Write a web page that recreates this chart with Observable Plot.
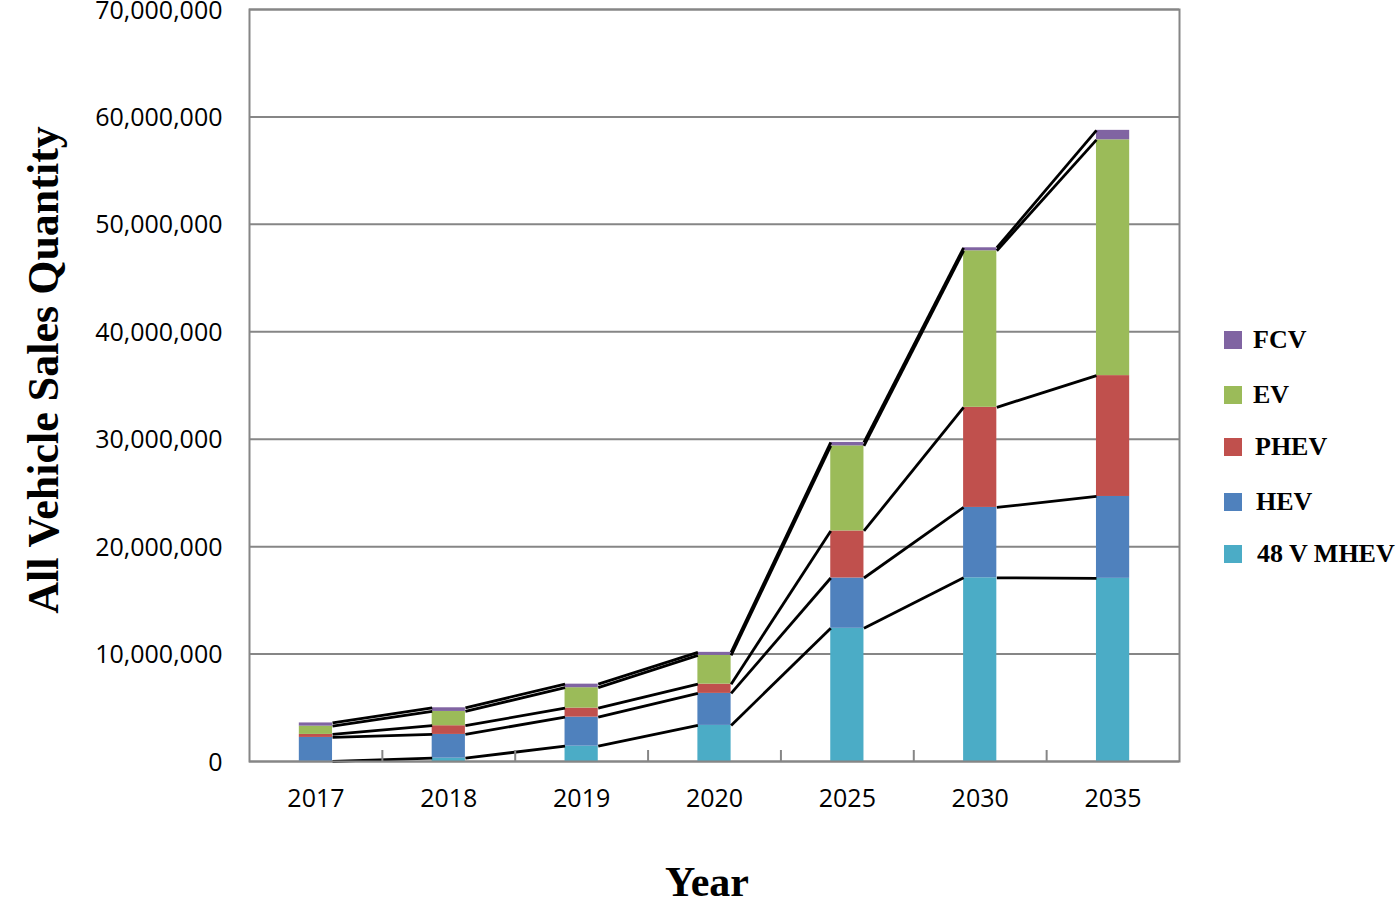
<!DOCTYPE html>
<html>
<head>
<meta charset="utf-8">
<script src="https://cdn.jsdelivr.net/npm/d3@7"></script>
<script src="https://cdn.jsdelivr.net/npm/@observablehq/plot@0.6"></script>
<style>
  html, body { margin: 0; padding: 0; background: #fff; }
  #wrap { position: relative; width: 1400px; height: 917px; overflow: hidden; }
  #chart { position: absolute; left: 0; top: 0; }
  .ytitle { position: absolute; left: 43px; top: 370px; transform: translate(-50%, -50%) rotate(-90deg);
    font-family: "Liberation Serif", serif; font-weight: bold; font-size: 44px; white-space: nowrap; color: #000; }
  .xtitle { position: absolute; left: 707px; top: 882px; transform: translate(-50%, -50%);
    font-family: "Liberation Serif", serif; font-weight: bold; font-size: 42px; white-space: nowrap; color: #000; }
  #legend { position: absolute; left: 1224px; top: 0; }
  .item { position: absolute; left: 0; display: flex; align-items: center; transform: translateY(-50%);
    font-family: "Liberation Serif", serif; font-weight: bold; font-size: 26px; white-space: nowrap; color: #000; }
  .sw { width: 18px; height: 18px; }
</style>
</head>
<body>
<div id="wrap">
  <div id="chart"></div>
  <div class="ytitle">All Vehicle Sales Quantity</div>
  <div class="xtitle">Year</div>
  <div id="legend"></div>
</div>
<script>
// ---- data (vehicles) ----
const years = ["2017", "2018", "2019", "2020", "2025", "2030", "2035"];
const mhev48 = [0.02e6, 0.31e6, 1.43e6, 3.36e6, 12.4e6, 17.1e6, 17.05e6];
const hev    = [2.22e6, 2.21e6, 2.70e6, 2.98e6, 4.68e6, 6.55e6, 7.62e6];
const phev   = [0.28e6, 0.81e6, 0.84e6, 0.86e6, 4.38e6, 9.32e6, 11.25e6];
const ev     = [0.77e6, 1.33e6, 1.90e6, 2.68e6, 7.92e6, 14.57e6, 21.95e6];
const fcv    = [0.30e6, 0.34e6, 0.33e6, 0.28e6, 0.32e6, 0.28e6, 0.88e6];
const seriesNames = ["48 V MHEV", "HEV", "PHEV", "EV", "FCV"];
const seriesColors = ["#4BACC6", "#4F81BD", "#C0504D", "#9BBB59", "#8064A2"];
const yTicks = [0, 10e6, 20e6, 30e6, 40e6, 50e6, 60e6, 70e6];

const seriesValues = [mhev48, hev, phev, ev, fcv];
const barHalf = 0.125; // half bar width as fraction of category band

// long table for stacked bars
const rows = [];
seriesNames.forEach((name, s) => {
  years.forEach((yr, i) => rows.push({i, year: yr, series: name, value: seriesValues[s][i]}));
});

// cumulative tops for series lines
const cum = seriesValues.map((_, s) =>
  years.map((_, i) => d3.sum(seriesValues.slice(0, s + 1), v => v[i])));
const links = [];
cum.forEach(c => {
  for (let i = 0; i < years.length - 1; i++) {
    links.push({x1: i + 0.5 + barHalf, x2: i + 1.5 - barHalf, y1: c[i], y2: c[i + 1]});
  }
});
const centers = years.map((_, i) => i + 0.5);
const bounds = d3.range(1, years.length);

const chart = Plot.plot({
  width: 1400,
  height: 917,
  marginLeft: 249,
  marginRight: 221,
  marginTop: 9,
  marginBottom: 156,
  style: {fontFamily: "'Open Sans', sans-serif", fontSize: "25px", color: "#000", background: "#fff", overflow: "visible"},
  x: {type: "linear", domain: [0, years.length]},
  y: {domain: [0, 70e6]},
  color: {domain: seriesNames, range: seriesColors},
  marks: [
    Plot.ruleY(yTicks, {stroke: "#868686", strokeWidth: 2}),
    Plot.rectY(rows, {
      x1: d => d.i + 0.5 - barHalf,
      x2: d => d.i + 0.5 + barHalf,
      y: "value",
      fill: "series",
      order: seriesNames
    }),
    Plot.link(links, {x1: "x1", x2: "x2", y1: "y1", y2: "y2", stroke: "#000", strokeWidth: 2.8}),
    Plot.frame({stroke: "#868686", strokeWidth: 2}),
    Plot.axisX(bounds, {anchor: "bottom", tickSize: 11, dy: -11, tickFormat: () => "", stroke: "#868686", strokeWidth: 2}),
    Plot.axisX(centers, {anchor: "bottom", tickSize: 0, tickPadding: 28, tickFormat: d => years[Math.round(d - 0.5)], fontSize: 25, label: null}),
    Plot.axisY(yTicks, {anchor: "left", tickSize: 0, tickPadding: 27, tickFormat: d3.format(","), fontSize: 25, dy: 1, label: null})
  ]
});
document.getElementById("chart").appendChild(chart);

// legend (top to bottom: FCV ... 48 V MHEV)
const legendY = [340, 395, 447, 502, 554];
const legendGap = [11, 11, 13, 14, 15];
const legend = document.getElementById("legend");
seriesNames.slice().reverse().forEach((name, k) => {
  const color = seriesColors[seriesNames.length - 1 - k];
  const div = document.createElement("div");
  div.className = "item";
  div.style.top = legendY[k] + "px";
  div.innerHTML = `<span class="sw" style="background:${color};margin-right:${legendGap[k]}px"></span><span>${name}</span>`;
  legend.appendChild(div);
});
</script>
</body>
</html>
